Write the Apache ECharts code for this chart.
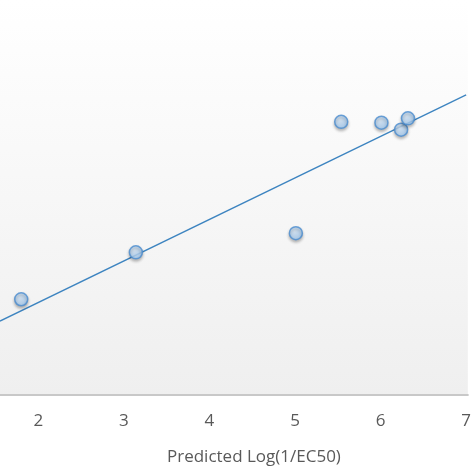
<!DOCTYPE html><html><head><meta charset="utf-8"><script src="https://cdn.jsdelivr.net/npm/echarts@6/dist/echarts.min.js"></script>
<style>html,body{margin:0;background:#fff}#c{width:474px;height:474px}</style></head><body><div id="c"></div><script>
const xs=[1.80,3.14,5.01,5.54,6.01,6.24,6.32];
const ys=[2.10,2.64,2.86,4.14,4.13,4.05,4.18];
const lineX=[1.552,7.0];
const lineY=[1.85,4.45];
const tickLabels=[2,3,4,5,6,7];
const chart=echarts.init(document.getElementById('c'));
chart.setOption({
 animation:false,
 grid:{left:0,right:0,top:0,bottom:79,show:true,borderWidth:0,
  backgroundColor:new echarts.graphic.LinearGradient(0,0,0,1,[{offset:0,color:'#ffffff'},{offset:1,color:'#efefef'}])},
 xAxis:{type:'value',min:1.552,max:7.02,
  name:'Predicted Log(1/EC50)',nameLocation:'middle',nameGap:54,
  nameTextStyle:{fontFamily:'Open Sans',fontSize:17,color:'#595959',padding:[0,0,0,40]},
  axisLine:{show:true,lineStyle:{color:'#c8c8c8',width:2}},axisTick:{show:false},splitLine:{show:false},
  axisLabel:{fontFamily:'Open Sans',fontSize:17,color:'#595959',margin:18,customValues:tickLabels,showMaxLabel:true}},
 yAxis:{type:'value',min:1,max:1+395/87,show:false,splitLine:{show:false}},
 series:[
  {type:'line',data:lineX.map((x,i)=>[x,lineY[i]]),symbol:'none',lineStyle:{color:'#3d84c0',width:1.3},z:2},
  {type:'scatter',data:xs.map((x,i)=>[x,ys[i]]),symbolSize:13,z:3,
   itemStyle:{color:new echarts.graphic.RadialGradient(0.4,0.35,0.7,[{offset:0,color:'#d6e8fa'},{offset:1,color:'#9cc6ef'}]),
   borderColor:'#4a8ccf',borderWidth:1.5,shadowColor:'rgba(0,0,0,0.3)',shadowBlur:3,shadowOffsetY:2}}
 ]
});
</script></body></html>
